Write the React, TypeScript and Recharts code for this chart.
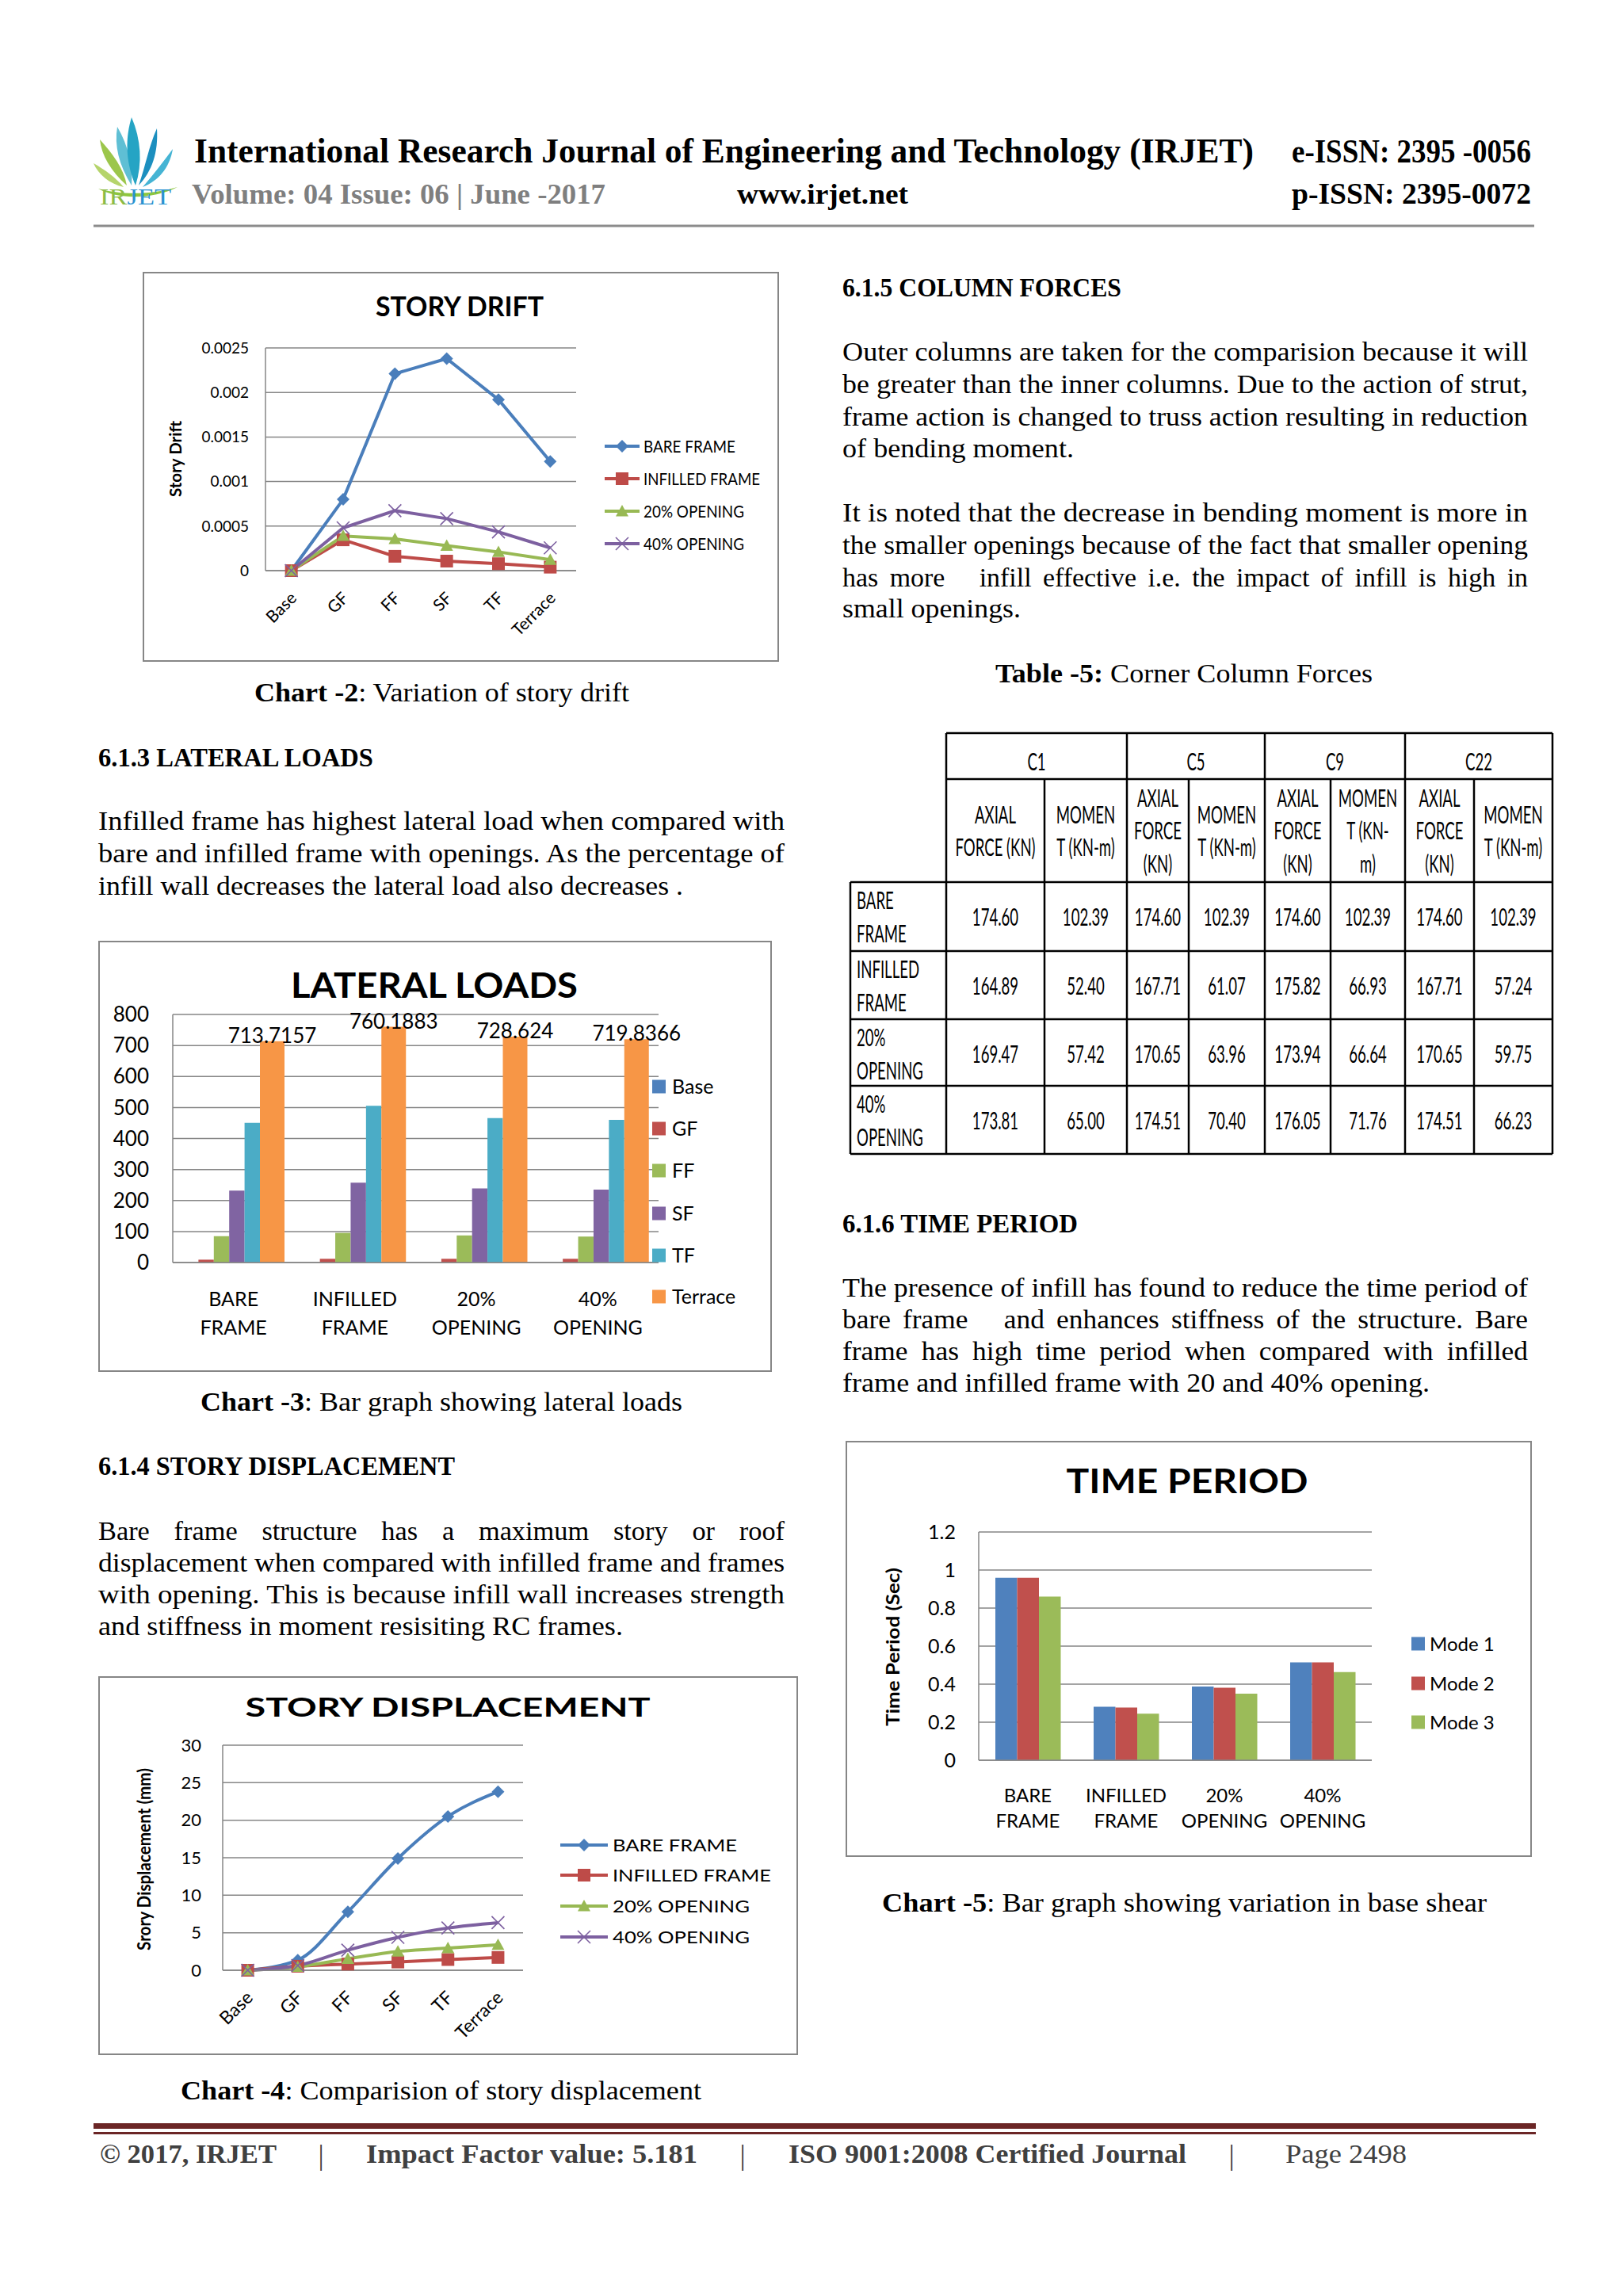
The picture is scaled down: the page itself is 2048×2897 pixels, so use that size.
import React from "react";
import {
  LineChart,
  Line,
  BarChart,
  Bar,
  XAxis,
  YAxis,
  CartesianGrid,
  LabelList,
} from "recharts";

const SERIF = "'Liberation Serif', 'DejaVu Serif', serif";
const SANS = "Lato, 'Liberation Sans', sans-serif";
const GRID = "#868686";

// storeys used by the drift and displacement charts
const STORIES = ["Base", "GF", "FF", "SF", "TF", "Terrace"];

// Chart 2: story drift
const DRIFT_BARE = [0, 0.0008, 0.00221, 0.00238, 0.00192, 0.001225];
const DRIFT_INFILLED = [0, 0.000346, 0.000161, 0.000107, 0.000078, 0.000039];
const DRIFT_20 = [0, 0.00039, 0.000355, 0.00028, 0.00021, 0.000122];
const DRIFT_40 = [0, 0.00048, 0.000673, 0.000584, 0.000435, 0.000256];
const DRIFT_TICKS = [0, 0.0005, 0.001, 0.0015, 0.002, 0.0025];

// Chart 4: story displacement (mm)
const DISP_BARE = [0, 1.36, 7.78, 14.9, 20.5, 23.8];
const DISP_INFILLED = [0, 0.54, 0.82, 1.1, 1.43, 1.71];
const DISP_20 = [0, 0.46, 1.53, 2.5, 2.96, 3.39];
const DISP_40 = [0, 0.64, 2.68, 4.39, 5.64, 6.35];
const DISP_TICKS = [0, 5, 10, 15, 20, 25, 30];

// frame types (bar chart categories)
const FRAMES = ["BARE FRAME", "INFILLED FRAME", "20% OPENING", "40% OPENING"];

// Chart 3: lateral loads per floor
const LOAD_BASE = [0, 0, 0, 0];
const LOAD_GF = [9.2, 12, 12, 12];
const LOAD_FF = [85, 95.6, 87.4, 83.7];
const LOAD_SF = [232, 257.5, 239, 235.4];
const LOAD_TF = [450.6, 505.7, 466, 459.8];
const LOAD_TERRACE = [713.7157, 760.1883, 728.624, 719.8366];
const LOAD_TICKS = [0, 100, 200, 300, 400, 500, 600, 700, 800];

// Chart 5: time period (sec)
const MODE_1 = [0.959, 0.281, 0.388, 0.515];
const MODE_2 = [0.959, 0.277, 0.381, 0.515];
const MODE_3 = [0.86, 0.245, 0.35, 0.464];
const TIME_TICKS = [0, 0.2, 0.4, 0.6, 0.8, 1, 1.2];

// Table 5: corner column forces
const TABLE_COLS = ["C1", "C5", "C9", "C22"];
const TABLE_SUBHEADS = [
  ["AXIAL", "FORCE (KN)"],
  ["MOMEN", "T (KN-m)"],
  ["AXIAL", "FORCE", "(KN)"],
  ["MOMEN", "T (KN-m)"],
  ["AXIAL", "FORCE", "(KN)"],
  ["MOMEN", "T (KN-", "m)"],
  ["AXIAL", "FORCE", "(KN)"],
  ["MOMEN", "T (KN-m)"],
];
const TABLE_ROW_LABELS = [
  ["BARE", "FRAME"],
  ["INFILLED", "FRAME"],
  ["20%", "OPENING"],
  ["40%", "OPENING"],
];
const ROW_BARE = [174.6, 102.39, 174.6, 102.39, 174.6, 102.39, 174.6, 102.39];
const ROW_INFILLED = [164.89, 52.4, 167.71, 61.07, 175.82, 66.93, 167.71, 57.24];
const ROW_20 = [169.47, 57.42, 170.65, 63.96, 173.94, 66.64, 170.65, 59.75];
const ROW_40 = [173.81, 65.0, 174.51, 70.4, 176.05, 71.76, 174.51, 66.23];

const LINE_SERIES = [
  { key: "bare", name: "BARE FRAME", color: "#4A7EBB", shape: "diamond" },
  { key: "infilled", name: "INFILLED FRAME", color: "#BE4B48", shape: "square" },
  { key: "o20", name: "20% OPENING", color: "#98B954", shape: "triangle" },
  { key: "o40", name: "40% OPENING", color: "#7D60A0", shape: "x" },
];

const LOAD_SERIES = [
  { key: "Base", color: "#4F81BD", size: 19.4 },
  { key: "GF", color: "#C0504D", size: 19.4 },
  { key: "FF", color: "#9BBB59", size: 19.4 },
  { key: "SF", color: "#8064A2", size: 19.4 },
  { key: "TF", color: "#4BACC6", size: 19.4 },
  { key: "Terrace", color: "#F79646", size: 31 },
];

const MODE_SERIES = [
  { key: "Mode 1", color: "#4F81BD" },
  { key: "Mode 2", color: "#C0504D" },
  { key: "Mode 3", color: "#9BBB59" },
];

const driftData = STORIES.map((s, i) => ({
  story: s,
  bare: DRIFT_BARE[i],
  infilled: DRIFT_INFILLED[i],
  o20: DRIFT_20[i],
  o40: DRIFT_40[i],
}));

const dispData = STORIES.map((s, i) => ({
  story: s,
  bare: DISP_BARE[i],
  infilled: DISP_INFILLED[i],
  o20: DISP_20[i],
  o40: DISP_40[i],
}));

const loadData = FRAMES.map((f, i) => ({
  frame: f,
  Base: LOAD_BASE[i],
  GF: LOAD_GF[i],
  FF: LOAD_FF[i],
  SF: LOAD_SF[i],
  TF: LOAD_TF[i],
  Terrace: LOAD_TERRACE[i],
}));

const timeData = FRAMES.map((f, i) => ({
  frame: f,
  "Mode 1": MODE_1[i],
  "Mode 2": MODE_2[i],
  "Mode 3": MODE_3[i],
}));

const TABLE_ROWS = [ROW_BARE, ROW_INFILLED, ROW_20, ROW_40];

type Box = { left: number; top: number; width: number; height: number };
type Plot = { left: number; right: number; top: number; bottom: number };

function T(props: {
  x: number;
  y: number;
  w?: number;
  size: number;
  bold?: boolean;
  anchor?: string;
  color?: string;
  family?: string;
  ws?: number;
  children: React.ReactNode;
}) {
  const { x, y, w, size, bold, anchor = "start", color = "#000", family = SERIF, ws } = props;
  return (
    <text
      x={x}
      y={y}
      fontSize={size}
      fontWeight={bold ? 700 : 400}
      fontFamily={family}
      fill={color}
      textAnchor={anchor}
      textLength={w}
      lengthAdjust={w ? "spacingAndGlyphs" : undefined}
      style={{ whiteSpace: "pre", wordSpacing: ws }}
    >
      {props.children}
    </text>
  );
}

function Marker({ cx, cy, shape, color, size }: any) {
  if (cx == null || cy == null) return null;
  const r = size / 2;
  if (shape === "diamond")
    return <path d={`M${cx},${cy - r}L${cx + r},${cy}L${cx},${cy + r}L${cx - r},${cy}Z`} fill={color} />;
  if (shape === "square") return <rect x={cx - r} y={cy - r} width={size} height={size} fill={color} />;
  if (shape === "triangle")
    return <path d={`M${cx},${cy - r}L${cx + r},${cy + r * 0.8}L${cx - r},${cy + r * 0.8}Z`} fill={color} />;
  return (
    <path
      d={`M${cx - r},${cy - r}L${cx + r},${cy + r}M${cx - r},${cy + r}L${cx + r},${cy - r}`}
      stroke={color}
      strokeWidth={1.6}
      fill="none"
    />
  );
}

function SlantTick({ x, y, payload, size }: any) {
  return (
    <text
      transform={`translate(${x + 8},${y + 36}) rotate(-45)`}
      textAnchor="end"
      fontSize={size}
      fontFamily={SANS}
      fill="#000"
    >
      {payload.value}
    </text>
  );
}

function TwoLineTick({ x, y, payload, size, gap1, gap2 }: any) {
  const [a, b] = String(payload.value).split(" ");
  return (
    <g fontSize={size} fontFamily={SANS} fill="#000">
      <text x={x} y={y + gap1} textAnchor="middle">
        {a}
      </text>
      <text x={x} y={y + gap2} textAnchor="middle">
        {b}
      </text>
    </g>
  );
}

function Frame({ box, children }: { box: Box; children: React.ReactNode }) {
  return (
    <div style={{ position: "absolute", left: box.left, top: box.top, width: box.width, height: box.height }}>
      <div
        style={{
          position: "absolute",
          inset: 0,
          border: `2px solid ${GRID}`,
          boxSizing: "border-box",
        }}
      />
      {children}
    </div>
  );
}

function Overlay({ box, children }: { box: Box; children: React.ReactNode }) {
  return (
    <svg
      width={box.width}
      height={box.height}
      style={{ position: "absolute", left: 0, top: 0, pointerEvents: "none", overflow: "visible" }}
    >
      {children}
    </svg>
  );
}

function YTitle({ cx, cy, size, w, children }: any) {
  return (
    <text
      transform={`translate(${cx + size * 0.35},${cy}) rotate(-90)`}
      textAnchor="middle"
      fontSize={size}
      fontWeight={700}
      fontFamily={SANS}
      textLength={w}
      lengthAdjust="spacingAndGlyphs"
    >
      {children}
    </text>
  );
}

function LineLegend({ x1, x2, tx, rows, widths, size }: any) {
  return (
    <g>
      {LINE_SERIES.map((s, i) => (
        <g key={s.key}>
          <line x1={x1} x2={x2} y1={rows[i]} y2={rows[i]} stroke={s.color} strokeWidth={4} />
          <Marker cx={(x1 + x2) / 2} cy={rows[i]} shape={s.shape} color={s.color} size={16} />
          <text
            x={tx}
            y={rows[i] + size * 0.36}
            fontSize={size}
            fontFamily={SANS}
            textLength={widths[i]}
            lengthAdjust="spacingAndGlyphs"
          >
            {s.name}
          </text>
        </g>
      ))}
    </g>
  );
}

function BoxLegend({ x, tx, rows, size, series }: any) {
  return (
    <g>
      {series.map((s: any, i: number) => (
        <g key={s.key}>
          <rect x={x} y={rows[i] - 8.5} width={17} height={17} fill={s.color} />
          <text x={tx} y={rows[i] + size * 0.36} fontSize={size} fontFamily={SANS}>
            {s.key}
          </text>
        </g>
      ))}
    </g>
  );
}

function StoryLines(props: {
  box: Box;
  plot: Plot;
  data: any[];
  ticks: number[];
  tickFont: number;
  tickGap: number;
  labelFont: number;
  curve: "linear" | "monotone";
}) {
  const { box, plot, data, ticks, tickFont, tickGap, labelFont, curve } = props;
  const yW = 60;
  const xH = 60;
  const band = (plot.right - plot.left) / STORIES.length;
  return (
    <div style={{ position: "absolute", left: 0, top: 0 }}>
      <LineChart
        width={box.width}
        height={box.height}
        data={data}
        margin={{
          top: plot.top,
          right: box.width - plot.right,
          bottom: box.height - plot.bottom - xH,
          left: plot.left - yW,
        }}
      >
        <CartesianGrid vertical={false} stroke={GRID} strokeWidth={1.5} />
        <XAxis
          dataKey="story"
          interval={0}
          height={xH}
          padding={{ left: band / 2, right: band / 2 }}
          axisLine={{ stroke: GRID, strokeWidth: 1.5 }}
          tickLine={false}
          tickSize={0}
          tickMargin={0}
          tick={(p: any) => <SlantTick {...p} size={labelFont} />}
        />
        <YAxis
          width={yW}
          domain={[0, ticks[ticks.length - 1]]}
          ticks={ticks}
          interval={0}
          axisLine={{ stroke: GRID, strokeWidth: 1.5 }}
          tickLine={false}
          tickSize={0}
          tickMargin={tickGap}
          tick={{ fill: "#000", fontSize: tickFont, fontFamily: SANS }}
        />
        {LINE_SERIES.map((s) => (
          <Line
            key={s.key}
            dataKey={s.key}
            name={s.name}
            type={curve}
            stroke={s.color}
            strokeWidth={4}
            isAnimationActive={false}
            activeDot={false}
            dot={(p: any) => (
              <Marker key={`${s.key}-${p.index}`} cx={p.cx} cy={p.cy} shape={s.shape} color={s.color} size={16} />
            )}
          />
        ))}
      </LineChart>
    </div>
  );
}

function DriftChart() {
  const box = { left: 180, top: 343, width: 803, height: 492 };
  return (
    <Frame box={box}>
      <StoryLines
        box={box}
        plot={{ left: 155, right: 547, top: 96, bottom: 377 }}
        data={driftData}
        ticks={DRIFT_TICKS}
        tickFont={19}
        tickGap={21}
        labelFont={21}
        curve="linear"
      />
      <Overlay box={box}>
        <T x={400} y={56} w={212} size={35} bold anchor="middle" family={SANS}>
          STORY DRIFT
        </T>
        <YTitle cx={42} cy={236} size={20} w={96}>
          Story Drift
        </YTitle>
        <LineLegend x1={583} x2={627} tx={632} rows={[220, 261, 302, 343]} widths={[116, 147, 127, 127]} size={22} />
      </Overlay>
    </Frame>
  );
}

function DisplacementChart() {
  const box = { left: 124, top: 2115, width: 883, height: 478 };
  return (
    <Frame box={box}>
      <StoryLines
        box={box}
        plot={{ left: 157, right: 536, top: 87, bottom: 371 }}
        data={dispData}
        ticks={DISP_TICKS}
        tickFont={22}
        tickGap={27}
        labelFont={23}
        curve="monotone"
      />
      <Overlay box={box}>
        <T x={441} y={51} w={511} size={33} bold anchor="middle" family={SANS}>
          STORY DISPLACEMENT
        </T>
        <YTitle cx={58} cy={231} size={22} w={230}>
          Srory Displacement (mm)
        </YTitle>
        <LineLegend x1={583} x2={643} tx={649} rows={[213, 251, 290, 329]} widths={[157, 200, 173, 173]} size={21} />
      </Overlay>
    </Frame>
  );
}

function TerraceLabel(props: any) {
  const { x, y, width, value } = props;
  return (
    <text x={Number(x) + Number(width) / 2} y={Number(y) + 2} textAnchor="middle" fontSize={26} fontFamily={SANS} fill="#000">
      {value}
    </text>
  );
}

function LoadsChart() {
  const box = { left: 124, top: 1187, width: 850, height: 544 };
  const plot = { left: 94, right: 707, top: 93, bottom: 406 };
  return (
    <Frame box={box}>
      <div style={{ position: "absolute", left: 0, top: 0 }}>
        <BarChart
          width={box.width}
          height={box.height}
          data={loadData}
          barGap={0}
          margin={{ top: plot.top, right: box.width - plot.right, bottom: box.height - plot.bottom - 100, left: plot.left - 60 }}
        >
          <CartesianGrid vertical={false} stroke={GRID} strokeWidth={1.5} />
          <XAxis
            dataKey="frame"
            height={100}
            interval={0}
            axisLine={{ stroke: GRID, strokeWidth: 1.5 }}
            tickLine={false}
            tickSize={0}
            tickMargin={0}
            tick={(p: any) => <TwoLineTick {...p} size={25} gap1={55} gap2={91} />}
          />
          <YAxis
            width={60}
            domain={[0, 800]}
            ticks={LOAD_TICKS}
            interval={0}
            axisLine={{ stroke: GRID, strokeWidth: 1.5 }}
            tickLine={false}
            tickSize={0}
            tickMargin={30}
            tick={{ fill: "#000", fontSize: 26, fontFamily: SANS }}
          />
          {LOAD_SERIES.map((s) => (
            <Bar key={s.key} dataKey={s.key} fill={s.color} barSize={s.size} isAnimationActive={false}>
              {s.key === "Terrace" ? <LabelList dataKey="Terrace" content={TerraceLabel} /> : null}
            </Bar>
          ))}
        </BarChart>
      </div>
      <Overlay box={box}>
        <T x={424} y={72} w={362} size={44} bold anchor="middle" family={SANS}>
          LATERAL LOADS
        </T>
        <BoxLegend x={699} tx={724} rows={[184, 237, 290, 344, 397, 449]} size={25} series={LOAD_SERIES} />
      </Overlay>
    </Frame>
  );
}

function TimeChart() {
  const box = { left: 1067, top: 1818, width: 866, height: 525 };
  const plot = { left: 168, right: 664, top: 115, bottom: 403 };
  return (
    <Frame box={box}>
      <div style={{ position: "absolute", left: 0, top: 0 }}>
        <BarChart
          width={box.width}
          height={box.height}
          data={timeData}
          barGap={0}
          margin={{ top: plot.top, right: box.width - plot.right, bottom: box.height - plot.bottom - 100, left: plot.left - 80 }}
        >
          <CartesianGrid vertical={false} stroke={GRID} strokeWidth={1.5} />
          <XAxis
            dataKey="frame"
            height={100}
            interval={0}
            axisLine={{ stroke: GRID, strokeWidth: 1.5 }}
            tickLine={false}
            tickSize={0}
            tickMargin={0}
            tick={(p: any) => <TwoLineTick {...p} size={24} gap1={53} gap2={85} />}
          />
          <YAxis
            width={80}
            domain={[0, 1.2]}
            ticks={TIME_TICKS}
            interval={0}
            axisLine={{ stroke: GRID, strokeWidth: 1.5 }}
            tickLine={false}
            tickSize={0}
            tickMargin={29}
            tick={{ fill: "#000", fontSize: 25, fontFamily: SANS }}
          />
          {MODE_SERIES.map((s) => (
            <Bar key={s.key} dataKey={s.key} fill={s.color} barSize={27.5} isAnimationActive={false} />
          ))}
        </BarChart>
      </div>
      <Overlay box={box}>
        <T x={431} y={66} w={305} size={42} bold anchor="middle" family={SANS}>
          TIME PERIOD
        </T>
        <YTitle cx={60} cy={260} size={22} w={200}>
          Time Period (Sec)
        </YTitle>
        <BoxLegend x={714} tx={737} rows={[256, 306, 355]} size={24} series={MODE_SERIES} />
      </Overlay>
    </Frame>
  );
}

function CText({ x, y, children, anchor = "middle" }: any) {
  return (
    <text
      transform={`translate(${x},${y}) scale(0.62,1)`}
      fontSize={30}
      fontFamily={SANS}
      textAnchor={anchor}
      fill="#000"
    >
      {children}
    </text>
  );
}

function ForcesTable() {
  const xs = [1073, 1194, 1318, 1422, 1500, 1596, 1679, 1773, 1860, 1959];
  const ys = [925, 983, 1113, 1200, 1286, 1370, 1456];
  const rowTops = ys.slice(2);
  return (
    <g>
      <g stroke="#000" strokeWidth={2.5}>
        <line x1={xs[1]} x2={xs[9]} y1={ys[0]} y2={ys[0]} />
        <line x1={xs[1]} x2={xs[9]} y1={ys[1]} y2={ys[1]} />
        {rowTops.map((y) => (
          <line key={y} x1={xs[0]} x2={xs[9]} y1={y} y2={y} />
        ))}
        <line x1={xs[0]} x2={xs[0]} y1={ys[2]} y2={ys[6]} />
        {[1, 3, 5, 7, 9].map((i) => (
          <line key={i} x1={xs[i]} x2={xs[i]} y1={ys[0]} y2={ys[6]} />
        ))}
        {[2, 4, 6, 8].map((i) => (
          <line key={i} x1={xs[i]} x2={xs[i]} y1={ys[1]} y2={ys[6]} />
        ))}
      </g>
      {TABLE_COLS.map((c, i) => (
        <CText key={c} x={(xs[1 + i * 2] + xs[3 + i * 2]) / 2} y={972}>
          {c}
        </CText>
      ))}
      {TABLE_SUBHEADS.map((lines, i) => {
        const base = lines.length === 3 ? [1018, 1059, 1101] : [1039, 1080];
        return lines.map((ln, j) => (
          <CText key={`${i}-${j}`} x={(xs[i + 1] + xs[i + 2]) / 2} y={base[j]}>
            {ln}
          </CText>
        ));
      })}
      {TABLE_ROWS.map((row, r) => (
        <g key={r}>
          <CText x={1081} y={rowTops[r] + 34} anchor="start">
            {TABLE_ROW_LABELS[r][0]}
          </CText>
          <CText x={1081} y={rowTops[r] + 76} anchor="start">
            {TABLE_ROW_LABELS[r][1]}
          </CText>
          {row.map((v, c) => (
            <CText key={c} x={(xs[c + 1] + xs[c + 2]) / 2} y={rowTops[r] + 55}>
              {v.toFixed(2)}
            </CText>
          ))}
        </g>
      ))}
    </g>
  );
}

const BODY_LINES = [
  { x: 124, y: 1047, w: 866, t: "Infilled frame has highest lateral load when compared with" },
  { x: 124, y: 1088, w: 866, t: "bare and infilled frame with openings. As the percentage of" },
  { x: 124, y: 1129, w: 738, t: "infill wall decreases the lateral load also decreases ." },
  { x: 124, y: 1943, w: 866, t: "Bare frame structure has a maximum story or roof", ws: 22 },
  { x: 124, y: 1983, w: 866, t: "displacement when compared with infilled frame and frames" },
  { x: 124, y: 2023, w: 866, t: "with opening. This is because infill wall increases strength" },
  { x: 124, y: 2063, w: 662, t: "and stiffness in moment resisiting RC frames." },
  { x: 1063, y: 455, w: 865, t: "Outer columns are taken for the comparision because it will" },
  { x: 1063, y: 496, w: 865, t: "be greater than the inner columns. Due to the action of strut," },
  { x: 1063, y: 537, w: 865, t: "frame action is changed to truss action resulting in reduction" },
  { x: 1063, y: 577, w: 292, t: "of bending moment." },
  { x: 1063, y: 658, w: 865, t: "It is noted that the decrease in bending moment is more in" },
  { x: 1063, y: 699, w: 865, t: "the smaller openings because of the fact that smaller opening" },
  { x: 1063, y: 740, w: 865, t: "has more   infill effective i.e. the impact of infill is high in", ws: 6 },
  { x: 1063, y: 779, w: 225, t: "small openings." },
  { x: 1063, y: 1636, w: 865, t: "The presence of infill has found to reduce the time period of" },
  { x: 1063, y: 1676, w: 865, t: "bare frame   and enhances stiffness of the structure. Bare", ws: 6 },
  { x: 1063, y: 1716, w: 865, t: "frame has high time period when compared with infilled", ws: 8 },
  { x: 1063, y: 1756, w: 741, t: "frame and infilled frame with 20 and 40% opening." },
];

const HEADINGS = [
  { x: 124, y: 967, w: 347, t: "6.1.3 LATERAL LOADS" },
  { x: 124, y: 1861, w: 450, t: "6.1.4 STORY DISPLACEMENT" },
  { x: 1063, y: 374, w: 352, t: "6.1.5 COLUMN FORCES" },
  { x: 1063, y: 1555, w: 297, t: "6.1.6 TIME PERIOD" },
];

const CAPTIONS = [
  { x: 321, y: 885, w: 473, b: "Chart -2", r: ": Variation of story drift" },
  { x: 253, y: 1780, w: 608, b: "Chart -3", r: ": Bar graph showing lateral loads" },
  { x: 228, y: 2649, w: 657, b: "Chart -4", r: ": Comparision of story displacement" },
  { x: 1256, y: 861, w: 476, b: "Table -5:", r: " Corner Column Forces" },
  { x: 1113, y: 2412, w: 763, b: "Chart -5", r: ": Bar graph showing variation in base shear" },
];

function Logo() {
  return (
    <g>
      <path d="M118,206 C132,214 146,224 156,236 C138,232 124,220 118,206Z" fill="#b5d46b" />
      <path d="M126,176 C142,194 156,212 160,234 C140,216 128,196 126,176Z" fill="#9cc64b" />
      <path d="M148,160 C162,184 168,210 166,234 C150,208 144,184 148,160Z" fill="#5fbfd4" />
      <path d="M166,148 C178,176 180,206 171,234 C158,204 158,174 166,148Z" fill="#25a4c4" />
      <path d="M198,162 C200,192 192,216 175,234 C184,208 188,184 198,162Z" fill="#1c8fbf" />
      <path d="M218,188 C214,212 200,228 180,236 C194,220 206,204 218,188Z" fill="#45b4d4" />
      <path d="M124,238 C150,252 192,252 224,236 C192,246 152,246 124,238Z" fill="#8dc63f" />
      <text x={126} y={258} fontSize={30} fontFamily={SERIF} textLength={90} lengthAdjust="spacingAndGlyphs">
        <tspan fill="#8dbb45">IR</tspan>
        <tspan fill="#2a92d0">JET</tspan>
      </text>
    </g>
  );
}

function PageText() {
  return (
    <svg width={2048} height={2897} style={{ position: "absolute", left: 0, top: 0, pointerEvents: "none" }}>
      <Logo />
      <T x={245} y={205} w={1337} size={44} bold>
        International Research Journal of Engineering and Technology (IRJET)
      </T>
      <T x={1630} y={205} w={302} size={42} bold>
        e-ISSN: 2395 -0056
      </T>
      <T x={242} y={257} w={522} size={36} bold color="#7f7f7f">
        Volume: 04 Issue: 06 | June -2017
      </T>
      <T x={930} y={257} w={216} size={36} bold>
        www.irjet.net
      </T>
      <T x={1630} y={257} w={302} size={38} bold>
        p-ISSN: 2395-0072
      </T>
      <line x1={118} x2={1936} y1={285} y2={285} stroke="#8c8c8c" strokeWidth={3} />

      {HEADINGS.map((h) => (
        <T key={h.t} x={h.x} y={h.y} w={h.w} size={34} bold>
          {h.t}
        </T>
      ))}
      {BODY_LINES.map((l) => (
        <T key={l.t} x={l.x} y={l.y} w={l.w} size={34} ws={l.ws}>
          {l.t}
        </T>
      ))}
      {CAPTIONS.map((c) => (
        <text
          key={c.b}
          x={c.x}
          y={c.y}
          fontSize={34}
          fontFamily={SERIF}
          textLength={c.w}
          lengthAdjust="spacingAndGlyphs"
          style={{ whiteSpace: "pre" }}
        >
          <tspan fontWeight={700}>{c.b}</tspan>
          <tspan>{c.r}</tspan>
        </text>
      ))}

      <ForcesTable />

      <rect x={118} y={2679} width={1820} height={7} fill="#6b2626" />
      <rect x={118} y={2690} width={1820} height={3} fill="#6b2626" />
      <g fill="#404040">
        <T x={126} y={2729} w={223} size={34} bold color="#404040">
          © 2017, IRJET
        </T>
        <T x={462} y={2729} w={418} size={34} bold color="#404040">
          Impact Factor value: 5.181
        </T>
        <T x={995} y={2729} w={502} size={34} bold color="#404040">
          ISO 9001:2008 Certified Journal
        </T>
        <T x={1622} y={2729} w={153} size={34} color="#404040">
          Page 2498
        </T>
        {[405, 937, 1554].map((x) => (
          <T key={x} x={x} y={2731} size={36} anchor="middle" color="#404040">
            |
          </T>
        ))}
      </g>
    </svg>
  );
}

export default function App() {
  return (
    <div
      style={{
        position: "absolute",
        left: 0,
        top: 0,
        width: 2048,
        height: 2897,
        background: "#fff",
        overflow: "hidden",
      }}
    >
      <PageText />
      <DriftChart />
      <LoadsChart />
      <DisplacementChart />
      <TimeChart />
    </div>
  );
}
